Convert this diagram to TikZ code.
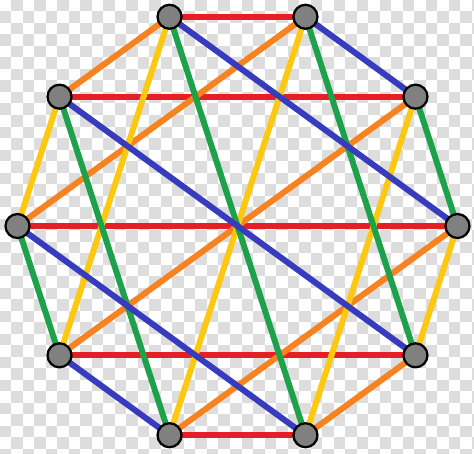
\documentclass[tikz,border=0pt]{standalone}
\usepackage{tikz}

\definecolor{linkred}{RGB}{230,30,37}
\definecolor{linkorange}{RGB}{246,130,32}
\definecolor{linkyellow}{RGB}{253,200,18}
\definecolor{linkgreen}{RGB}{29,161,74}
\definecolor{linkblue}{RGB}{55,60,190}
\definecolor{vertexgray}{RGB}{128,128,128}
\definecolor{tilegray}{RGB}{221,221,221}

\pgfdeclarelayer{checker}
\pgfdeclarelayer{background}
\pgfsetlayers{checker,background,main}

\tikzset{
    vertex/.style = { circle, draw=black, line width=0.045cm, fill=vertexgray, minimum size=0.48cm, inner sep=0pt },
    link/.style = { line width=0.12cm, #1 },
    tile/.style = { fill=tilegray }
}

\begin{document}
\begin{tikzpicture}
    %%% Frame made by taking 1px = 0.02cm, decagon centre at the origin
    \useasboundingbox (-4.75,-4.54) rectangle (4.73,4.52);

    %%%
    %%% Checkered background
    %%%
    \begin{pgfonlayer}{checker}
    \clip (-4.75,-4.54) rectangle (4.73,4.52);
    \foreach \col in {0,...,41}
      \foreach \row in {0,...,39}
        {
          \pgfmathtruncatemacro{\odd}{mod(\col+\row,2)}
          \ifnum\odd=1
            \fill[tile] ({-4.75+0.23*\col},{4.52-0.23*\row}) rectangle ++(0.23,-0.23);
          \fi
        }
    \end{pgfonlayer}

    %%%
    %%% Vertices of the decagon
    %%%
    \foreach \i in {0,...,9}
      {
        \node[vertex] (v\i) at (\i*36:4.4) {};
      }

    %%%
    %%% Five perfect matchings, one colour each
    %%%
    \begin{pgfonlayer}{background}
    % Red: i+j = 5
    \foreach \a / \b in {2/3, 1/4, 0/5, 9/6, 8/7}
      { \draw[link=linkred] (v\a.center) -- (v\b.center); }
    % Orange: i+j = 7
    \foreach \a / \b in {3/4, 2/5, 1/6, 0/7, 9/8}
      { \draw[link=linkorange] (v\a.center) -- (v\b.center); }
    % Yellow: i+j = 9
    \foreach \a / \b in {4/5, 3/6, 2/7, 1/8, 0/9}
      { \draw[link=linkyellow] (v\a.center) -- (v\b.center); }
    % Green: i+j = 1
    \foreach \a / \b in {0/1, 9/2, 8/3, 7/4, 6/5}
      { \draw[link=linkgreen] (v\a.center) -- (v\b.center); }
    % Blue: i+j = 3
    \foreach \a / \b in {1/2, 0/3, 9/4, 8/5, 7/6}
      { \draw[link=linkblue] (v\a.center) -- (v\b.center); }
    \end{pgfonlayer}
\end{tikzpicture}
\end{document}
